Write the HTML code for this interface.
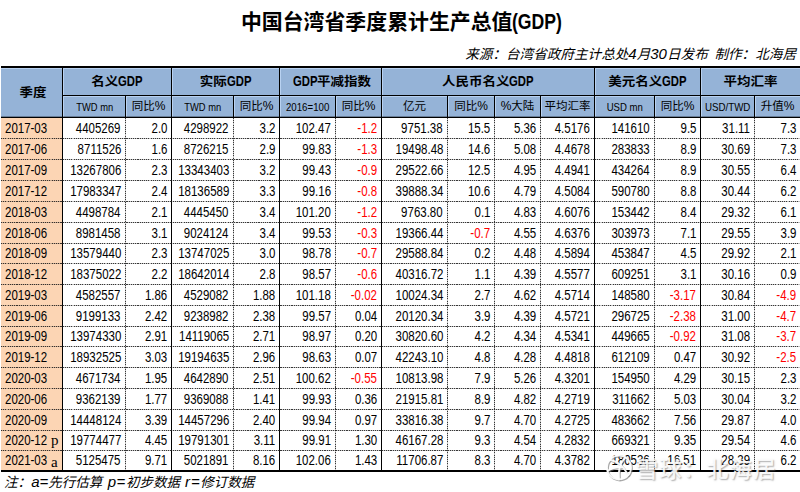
<!DOCTYPE html>
<html lang="zh-CN"><head><meta charset="utf-8"><title>中国台湾省季度累计生产总值(GDP)</title>
<style>
html,body{margin:0;padding:0;background:#fff;}
body{width:800px;height:492px;position:relative;overflow:hidden;font-family:"Liberation Sans","Noto Sans CJK SC",sans-serif;color:#000;}
.a{position:absolute;white-space:nowrap;}
.bg{position:absolute;}
.ln{position:absolute;background:#000;}
.dh{position:absolute;height:1px;background:repeating-linear-gradient(90deg,rgba(20,20,20,.85) 0,rgba(20,20,20,.85) 1.1px,rgba(60,60,60,.3) 1.1px,rgba(60,60,60,.3) 2.2px);}
.dv{position:absolute;width:1px;background:repeating-linear-gradient(180deg,rgba(20,20,20,.85) 0,rgba(20,20,20,.85) 1.1px,rgba(60,60,60,.3) 1.1px,rgba(60,60,60,.3) 2.2px);}
.hl{position:absolute;background:#B9D2F1;}
.n{display:inline-block;transform:scaleX(.82);}
.c{position:absolute;white-space:nowrap;font-size:14px;text-align:right;}
.c .n{transform-origin:100% 50%;}
.d{position:absolute;white-space:nowrap;font-size:14px;text-align:left;}
.d .n{transform-origin:0 50%;}
.r{color:#f00;}
.h1{position:absolute;white-space:nowrap;text-align:center;font-weight:bold;font-size:13.5px;}
.h1 .n{font-size:14.5px;transform:scaleX(.78);}
.h1 .k{display:inline-block;transform:scaleY(.9);}
.h2{position:absolute;white-space:nowrap;text-align:center;font-size:11.5px;}
.h2 .n{font-size:11px;position:relative;top:1.5px;}
.h2 .p{font-size:12px;}
.sf{font-family:"Liberation Serif",serif;font-size:15px;}
.it{font-style:italic;}
.fl{display:inline-block;text-align:right;font-size:15px;white-space:pre;}

</style></head><body>
<div class="bg" style="left:1px;top:68px;width:799px;height:49px;background:#95B3D7"></div>
<div class="bg" style="left:1px;top:118px;width:61px;height:352px;background:#FCD5B4"></div>
<div class="hl" style="left:1px;top:68px;width:799px;height:1px"></div>
<div class="hl" style="left:63px;top:96px;width:737px;height:1px"></div>
<div class="hl" style="left:63px;top:68px;width:1px;height:49px"></div>
<div class="hl" style="left:126px;top:96px;width:1px;height:21px"></div>
<div class="hl" style="left:172px;top:68px;width:1px;height:49px"></div>
<div class="hl" style="left:234px;top:96px;width:1px;height:21px"></div>
<div class="hl" style="left:280px;top:68px;width:1px;height:49px"></div>
<div class="hl" style="left:336px;top:96px;width:1px;height:21px"></div>
<div class="hl" style="left:382px;top:68px;width:1px;height:49px"></div>
<div class="hl" style="left:448px;top:96px;width:1px;height:21px"></div>
<div class="hl" style="left:495px;top:96px;width:1px;height:21px"></div>
<div class="hl" style="left:541px;top:96px;width:1px;height:21px"></div>
<div class="hl" style="left:595px;top:68px;width:1px;height:49px"></div>
<div class="hl" style="left:655px;top:96px;width:1px;height:21px"></div>
<div class="hl" style="left:701px;top:68px;width:1px;height:49px"></div>
<div class="hl" style="left:755px;top:96px;width:1px;height:21px"></div>
<div class="ln" style="left:1px;top:66px;width:799px;height:2px"></div>
<div class="ln" style="left:1px;top:470px;width:799px;height:2px"></div>
<div class="ln" style="left:62px;top:95px;width:738px;height:1px"></div>
<div class="ln" style="left:1px;top:117px;width:799px;height:1px"></div>
<div class="ln" style="left:1px;top:116px;width:799px;height:1px;background:rgba(0,0,0,.3)"></div>
<div class="ln" style="left:62px;top:68px;width:1px;height:402px"></div>
<div class="ln" style="left:125px;top:95px;width:1px;height:22px"></div>
<div class="dv" style="left:125px;top:118px;height:352px"></div>
<div class="ln" style="left:171px;top:68px;width:1px;height:402px"></div>
<div class="ln" style="left:233px;top:95px;width:1px;height:22px"></div>
<div class="dv" style="left:233px;top:118px;height:352px"></div>
<div class="ln" style="left:279px;top:68px;width:1px;height:402px"></div>
<div class="ln" style="left:335px;top:95px;width:1px;height:22px"></div>
<div class="dv" style="left:335px;top:118px;height:352px"></div>
<div class="ln" style="left:381px;top:68px;width:1px;height:402px"></div>
<div class="ln" style="left:447px;top:95px;width:1px;height:22px"></div>
<div class="dv" style="left:447px;top:118px;height:352px"></div>
<div class="ln" style="left:494px;top:95px;width:1px;height:22px"></div>
<div class="dv" style="left:494px;top:118px;height:352px"></div>
<div class="ln" style="left:540px;top:95px;width:1px;height:22px"></div>
<div class="dv" style="left:540px;top:118px;height:352px"></div>
<div class="ln" style="left:594px;top:68px;width:1px;height:402px"></div>
<div class="ln" style="left:654px;top:95px;width:1px;height:22px"></div>
<div class="dv" style="left:654px;top:118px;height:352px"></div>
<div class="ln" style="left:700px;top:68px;width:1px;height:402px"></div>
<div class="ln" style="left:754px;top:95px;width:1px;height:22px"></div>
<div class="dv" style="left:754px;top:118px;height:352px"></div>
<div class="dh" style="left:1px;top:138px;width:799px"></div>
<div class="dh" style="left:1px;top:159px;width:799px"></div>
<div class="dh" style="left:1px;top:180px;width:799px"></div>
<div class="dh" style="left:1px;top:201px;width:799px"></div>
<div class="dh" style="left:1px;top:222px;width:799px"></div>
<div class="dh" style="left:1px;top:243px;width:799px"></div>
<div class="dh" style="left:1px;top:263px;width:799px"></div>
<div class="dh" style="left:1px;top:284px;width:799px"></div>
<div class="dh" style="left:1px;top:305px;width:799px"></div>
<div class="dh" style="left:1px;top:326px;width:799px"></div>
<div class="dh" style="left:1px;top:346px;width:799px"></div>
<div class="dh" style="left:1px;top:367px;width:799px"></div>
<div class="dh" style="left:1px;top:388px;width:799px"></div>
<div class="dh" style="left:1px;top:409px;width:799px"></div>
<div class="dh" style="left:1px;top:430px;width:799px"></div>
<div class="dh" style="left:1px;top:450px;width:799px"></div>
<div class="a" style="left:240.9px;top:7px;height:30px;line-height:30px;font-size:20.9px;font-weight:bold">中国台湾省季度累计生产总值<span class="n" style="transform-origin:0 50%;font-size:21.5px">(GDP)</span></div>
<div class="a it" style="right:4px;top:43.5px;height:20px;line-height:20px;font-size:13.6px;text-align:right">来源：台湾省政府主计总处<span style="font-size:15px">4</span>月<span style="font-size:15px">30</span>日发布<span style="display:inline-block;width:6.7px"></span>制作：北海居</div>
<div class="h1" style="left:2.5px;top:68px;width:61.0px;height:49px;line-height:49px"><span class="k">季度</span></div>
<div class="h1" style="left:63px;top:68px;width:108px;height:27px;line-height:27px"><span class="k">名义</span><span class="n" style="transform-origin:0 50%;margin-right:-6.9px">GDP</span></div>
<div class="h1" style="left:172px;top:68px;width:107px;height:27px;line-height:27px"><span class="k">实际</span><span class="n" style="transform-origin:0 50%;margin-right:-6.9px">GDP</span></div>
<div class="h1" style="left:281.2px;top:68px;width:101.0px;height:27px;line-height:27px"><span class="n" style="transform-origin:100% 50%;margin-left:-6.9px">GDP</span><span class="k">平减指数</span></div>
<div class="h1" style="left:382px;top:68px;width:212px;height:27px;line-height:27px"><span class="k">人民币名义</span><span class="n" style="transform-origin:0 50%;margin-right:-6.9px">GDP</span></div>
<div class="h1" style="left:595px;top:68px;width:105px;height:27px;line-height:27px"><span class="k">美元名义</span><span class="n" style="transform-origin:0 50%;margin-right:-6.9px">GDP</span></div>
<div class="h1" style="left:701px;top:68px;width:99px;height:27px;line-height:27px"><span class="k">平均汇率</span></div>
<div class="h2" style="left:63px;top:95.8px;width:62px;height:21px;line-height:21px"><span class="n" style="transform:scaleX(0.85);transform-origin:50% 50%;left:0.7px">TWD mn</span></div>
<div class="h2" style="left:126px;top:95.8px;width:45px;height:21px;line-height:21px">同比<span class="p">%</span></div>
<div class="h2" style="left:172px;top:95.8px;width:61px;height:21px;line-height:21px"><span class="n" style="transform:scaleX(0.85);transform-origin:50% 50%;left:0.7px">TWD mn</span></div>
<div class="h2" style="left:234px;top:95.8px;width:45px;height:21px;line-height:21px">同比<span class="p">%</span></div>
<div class="h2" style="left:280px;top:95.8px;width:55px;height:21px;line-height:21px"><span class="n" style="transform:scaleX(0.88);transform-origin:50% 50%;left:0.3px">2016=100</span></div>
<div class="h2" style="left:336px;top:95.8px;width:45px;height:21px;line-height:21px">同比<span class="p">%</span></div>
<div class="h2" style="left:382px;top:95.8px;width:65px;height:21px;line-height:21px">亿元</div>
<div class="h2" style="left:448px;top:95.8px;width:46px;height:21px;line-height:21px">同比<span class="p">%</span></div>
<div class="h2" style="left:495px;top:95.8px;width:45px;height:21px;line-height:21px"><span class="p">%</span>大陆</div>
<div class="h2" style="left:541px;top:95.8px;width:53px;height:21px;line-height:21px">平均汇率</div>
<div class="h2" style="left:595px;top:95.8px;width:59px;height:21px;line-height:21px"><span class="n" style="transform:scaleX(0.87);transform-origin:50% 50%;left:0px">USD mn</span></div>
<div class="h2" style="left:655px;top:95.8px;width:45px;height:21px;line-height:21px">同比<span class="p">%</span></div>
<div class="h2" style="left:701px;top:95.8px;width:53px;height:21px;line-height:21px"><span class="n" style="transform:scaleX(0.886);transform-origin:50% 50%;left:0px">USD/TWD</span></div>
<div class="h2" style="left:755px;top:95.8px;width:45px;height:21px;line-height:21px">升值<span class="p">%</span></div>
<div class="d" style="left:5px;top:117.6px;width:57px;height:20px;line-height:20px"><span class="n">2017-03</span></div>
<div class="c" style="left:33px;top:117.6px;width:88px;height:20px;line-height:20px"><span class="n">4405269</span></div>
<div class="c" style="left:96px;top:117.6px;width:71px;height:20px;line-height:20px"><span class="n">2.0</span></div>
<div class="c" style="left:142px;top:117.6px;width:87px;height:20px;line-height:20px"><span class="n">4298922</span></div>
<div class="c" style="left:204px;top:117.6px;width:71px;height:20px;line-height:20px"><span class="n">3.2</span></div>
<div class="c" style="left:250px;top:117.6px;width:81px;height:20px;line-height:20px"><span class="n">102.47</span></div>
<div class="c r" style="left:306px;top:117.6px;width:71px;height:20px;line-height:20px"><span class="n">-1.2</span></div>
<div class="c" style="left:352px;top:117.6px;width:91px;height:20px;line-height:20px"><span class="n">9751.38</span></div>
<div class="c" style="left:418px;top:117.6px;width:72px;height:20px;line-height:20px"><span class="n">15.5</span></div>
<div class="c" style="left:465px;top:117.6px;width:71px;height:20px;line-height:20px"><span class="n">5.36</span></div>
<div class="c" style="left:511px;top:117.6px;width:79px;height:20px;line-height:20px"><span class="n">4.5176</span></div>
<div class="c" style="left:565px;top:117.6px;width:85px;height:20px;line-height:20px"><span class="n">141610</span></div>
<div class="c" style="left:625px;top:117.6px;width:71px;height:20px;line-height:20px"><span class="n">9.5</span></div>
<div class="c" style="left:671px;top:117.6px;width:79px;height:20px;line-height:20px"><span class="n">31.11</span></div>
<div class="c" style="left:725px;top:117.6px;width:71px;height:20px;line-height:20px"><span class="n">7.3</span></div>
<div class="d" style="left:5px;top:138.6px;width:57px;height:20px;line-height:20px"><span class="n">2017-06</span></div>
<div class="c" style="left:33px;top:138.6px;width:88px;height:20px;line-height:20px"><span class="n">8711526</span></div>
<div class="c" style="left:96px;top:138.6px;width:71px;height:20px;line-height:20px"><span class="n">1.6</span></div>
<div class="c" style="left:142px;top:138.6px;width:87px;height:20px;line-height:20px"><span class="n">8726215</span></div>
<div class="c" style="left:204px;top:138.6px;width:71px;height:20px;line-height:20px"><span class="n">2.9</span></div>
<div class="c" style="left:250px;top:138.6px;width:81px;height:20px;line-height:20px"><span class="n">99.83</span></div>
<div class="c r" style="left:306px;top:138.6px;width:71px;height:20px;line-height:20px"><span class="n">-1.3</span></div>
<div class="c" style="left:352px;top:138.6px;width:91px;height:20px;line-height:20px"><span class="n">19498.48</span></div>
<div class="c" style="left:418px;top:138.6px;width:72px;height:20px;line-height:20px"><span class="n">14.6</span></div>
<div class="c" style="left:465px;top:138.6px;width:71px;height:20px;line-height:20px"><span class="n">5.08</span></div>
<div class="c" style="left:511px;top:138.6px;width:79px;height:20px;line-height:20px"><span class="n">4.4678</span></div>
<div class="c" style="left:565px;top:138.6px;width:85px;height:20px;line-height:20px"><span class="n">283833</span></div>
<div class="c" style="left:625px;top:138.6px;width:71px;height:20px;line-height:20px"><span class="n">8.9</span></div>
<div class="c" style="left:671px;top:138.6px;width:79px;height:20px;line-height:20px"><span class="n">30.69</span></div>
<div class="c" style="left:725px;top:138.6px;width:71px;height:20px;line-height:20px"><span class="n">7.3</span></div>
<div class="d" style="left:5px;top:159.6px;width:57px;height:20px;line-height:20px"><span class="n">2017-09</span></div>
<div class="c" style="left:33px;top:159.6px;width:88px;height:20px;line-height:20px"><span class="n">13267806</span></div>
<div class="c" style="left:96px;top:159.6px;width:71px;height:20px;line-height:20px"><span class="n">2.3</span></div>
<div class="c" style="left:142px;top:159.6px;width:87px;height:20px;line-height:20px"><span class="n">13343403</span></div>
<div class="c" style="left:204px;top:159.6px;width:71px;height:20px;line-height:20px"><span class="n">3.2</span></div>
<div class="c" style="left:250px;top:159.6px;width:81px;height:20px;line-height:20px"><span class="n">99.43</span></div>
<div class="c r" style="left:306px;top:159.6px;width:71px;height:20px;line-height:20px"><span class="n">-0.9</span></div>
<div class="c" style="left:352px;top:159.6px;width:91px;height:20px;line-height:20px"><span class="n">29522.66</span></div>
<div class="c" style="left:418px;top:159.6px;width:72px;height:20px;line-height:20px"><span class="n">12.5</span></div>
<div class="c" style="left:465px;top:159.6px;width:71px;height:20px;line-height:20px"><span class="n">4.95</span></div>
<div class="c" style="left:511px;top:159.6px;width:79px;height:20px;line-height:20px"><span class="n">4.4941</span></div>
<div class="c" style="left:565px;top:159.6px;width:85px;height:20px;line-height:20px"><span class="n">434264</span></div>
<div class="c" style="left:625px;top:159.6px;width:71px;height:20px;line-height:20px"><span class="n">8.9</span></div>
<div class="c" style="left:671px;top:159.6px;width:79px;height:20px;line-height:20px"><span class="n">30.55</span></div>
<div class="c" style="left:725px;top:159.6px;width:71px;height:20px;line-height:20px"><span class="n">6.4</span></div>
<div class="d" style="left:5px;top:180.6px;width:57px;height:20px;line-height:20px"><span class="n">2017-12</span></div>
<div class="c" style="left:33px;top:180.6px;width:88px;height:20px;line-height:20px"><span class="n">17983347</span></div>
<div class="c" style="left:96px;top:180.6px;width:71px;height:20px;line-height:20px"><span class="n">2.4</span></div>
<div class="c" style="left:142px;top:180.6px;width:87px;height:20px;line-height:20px"><span class="n">18136589</span></div>
<div class="c" style="left:204px;top:180.6px;width:71px;height:20px;line-height:20px"><span class="n">3.3</span></div>
<div class="c" style="left:250px;top:180.6px;width:81px;height:20px;line-height:20px"><span class="n">99.16</span></div>
<div class="c r" style="left:306px;top:180.6px;width:71px;height:20px;line-height:20px"><span class="n">-0.8</span></div>
<div class="c" style="left:352px;top:180.6px;width:91px;height:20px;line-height:20px"><span class="n">39888.34</span></div>
<div class="c" style="left:418px;top:180.6px;width:72px;height:20px;line-height:20px"><span class="n">10.6</span></div>
<div class="c" style="left:465px;top:180.6px;width:71px;height:20px;line-height:20px"><span class="n">4.79</span></div>
<div class="c" style="left:511px;top:180.6px;width:79px;height:20px;line-height:20px"><span class="n">4.5084</span></div>
<div class="c" style="left:565px;top:180.6px;width:85px;height:20px;line-height:20px"><span class="n">590780</span></div>
<div class="c" style="left:625px;top:180.6px;width:71px;height:20px;line-height:20px"><span class="n">8.8</span></div>
<div class="c" style="left:671px;top:180.6px;width:79px;height:20px;line-height:20px"><span class="n">30.44</span></div>
<div class="c" style="left:725px;top:180.6px;width:71px;height:20px;line-height:20px"><span class="n">6.2</span></div>
<div class="d" style="left:5px;top:201.6px;width:57px;height:20px;line-height:20px"><span class="n">2018-03</span></div>
<div class="c" style="left:33px;top:201.6px;width:88px;height:20px;line-height:20px"><span class="n">4498784</span></div>
<div class="c" style="left:96px;top:201.6px;width:71px;height:20px;line-height:20px"><span class="n">2.1</span></div>
<div class="c" style="left:142px;top:201.6px;width:87px;height:20px;line-height:20px"><span class="n">4445450</span></div>
<div class="c" style="left:204px;top:201.6px;width:71px;height:20px;line-height:20px"><span class="n">3.4</span></div>
<div class="c" style="left:250px;top:201.6px;width:81px;height:20px;line-height:20px"><span class="n">101.20</span></div>
<div class="c r" style="left:306px;top:201.6px;width:71px;height:20px;line-height:20px"><span class="n">-1.2</span></div>
<div class="c" style="left:352px;top:201.6px;width:91px;height:20px;line-height:20px"><span class="n">9763.80</span></div>
<div class="c" style="left:418px;top:201.6px;width:72px;height:20px;line-height:20px"><span class="n">0.1</span></div>
<div class="c" style="left:465px;top:201.6px;width:71px;height:20px;line-height:20px"><span class="n">4.83</span></div>
<div class="c" style="left:511px;top:201.6px;width:79px;height:20px;line-height:20px"><span class="n">4.6076</span></div>
<div class="c" style="left:565px;top:201.6px;width:85px;height:20px;line-height:20px"><span class="n">153442</span></div>
<div class="c" style="left:625px;top:201.6px;width:71px;height:20px;line-height:20px"><span class="n">8.4</span></div>
<div class="c" style="left:671px;top:201.6px;width:79px;height:20px;line-height:20px"><span class="n">29.32</span></div>
<div class="c" style="left:725px;top:201.6px;width:71px;height:20px;line-height:20px"><span class="n">6.1</span></div>
<div class="d" style="left:5px;top:222.6px;width:57px;height:20px;line-height:20px"><span class="n">2018-06</span></div>
<div class="c" style="left:33px;top:222.6px;width:88px;height:20px;line-height:20px"><span class="n">8981458</span></div>
<div class="c" style="left:96px;top:222.6px;width:71px;height:20px;line-height:20px"><span class="n">3.1</span></div>
<div class="c" style="left:142px;top:222.6px;width:87px;height:20px;line-height:20px"><span class="n">9024124</span></div>
<div class="c" style="left:204px;top:222.6px;width:71px;height:20px;line-height:20px"><span class="n">3.4</span></div>
<div class="c" style="left:250px;top:222.6px;width:81px;height:20px;line-height:20px"><span class="n">99.53</span></div>
<div class="c r" style="left:306px;top:222.6px;width:71px;height:20px;line-height:20px"><span class="n">-0.3</span></div>
<div class="c" style="left:352px;top:222.6px;width:91px;height:20px;line-height:20px"><span class="n">19366.44</span></div>
<div class="c r" style="left:418px;top:222.6px;width:72px;height:20px;line-height:20px"><span class="n">-0.7</span></div>
<div class="c" style="left:465px;top:222.6px;width:71px;height:20px;line-height:20px"><span class="n">4.55</span></div>
<div class="c" style="left:511px;top:222.6px;width:79px;height:20px;line-height:20px"><span class="n">4.6376</span></div>
<div class="c" style="left:565px;top:222.6px;width:85px;height:20px;line-height:20px"><span class="n">303973</span></div>
<div class="c" style="left:625px;top:222.6px;width:71px;height:20px;line-height:20px"><span class="n">7.1</span></div>
<div class="c" style="left:671px;top:222.6px;width:79px;height:20px;line-height:20px"><span class="n">29.55</span></div>
<div class="c" style="left:725px;top:222.6px;width:71px;height:20px;line-height:20px"><span class="n">3.9</span></div>
<div class="d" style="left:5px;top:243.1px;width:57px;height:20px;line-height:20px"><span class="n">2018-09</span></div>
<div class="c" style="left:33px;top:243.1px;width:88px;height:20px;line-height:20px"><span class="n">13579440</span></div>
<div class="c" style="left:96px;top:243.1px;width:71px;height:20px;line-height:20px"><span class="n">2.3</span></div>
<div class="c" style="left:142px;top:243.1px;width:87px;height:20px;line-height:20px"><span class="n">13747025</span></div>
<div class="c" style="left:204px;top:243.1px;width:71px;height:20px;line-height:20px"><span class="n">3.0</span></div>
<div class="c" style="left:250px;top:243.1px;width:81px;height:20px;line-height:20px"><span class="n">98.78</span></div>
<div class="c r" style="left:306px;top:243.1px;width:71px;height:20px;line-height:20px"><span class="n">-0.7</span></div>
<div class="c" style="left:352px;top:243.1px;width:91px;height:20px;line-height:20px"><span class="n">29588.84</span></div>
<div class="c" style="left:418px;top:243.1px;width:72px;height:20px;line-height:20px"><span class="n">0.2</span></div>
<div class="c" style="left:465px;top:243.1px;width:71px;height:20px;line-height:20px"><span class="n">4.48</span></div>
<div class="c" style="left:511px;top:243.1px;width:79px;height:20px;line-height:20px"><span class="n">4.5894</span></div>
<div class="c" style="left:565px;top:243.1px;width:85px;height:20px;line-height:20px"><span class="n">453847</span></div>
<div class="c" style="left:625px;top:243.1px;width:71px;height:20px;line-height:20px"><span class="n">4.5</span></div>
<div class="c" style="left:671px;top:243.1px;width:79px;height:20px;line-height:20px"><span class="n">29.92</span></div>
<div class="c" style="left:725px;top:243.1px;width:71px;height:20px;line-height:20px"><span class="n">2.1</span></div>
<div class="d" style="left:5px;top:263.6px;width:57px;height:20px;line-height:20px"><span class="n">2018-12</span></div>
<div class="c" style="left:33px;top:263.6px;width:88px;height:20px;line-height:20px"><span class="n">18375022</span></div>
<div class="c" style="left:96px;top:263.6px;width:71px;height:20px;line-height:20px"><span class="n">2.2</span></div>
<div class="c" style="left:142px;top:263.6px;width:87px;height:20px;line-height:20px"><span class="n">18642014</span></div>
<div class="c" style="left:204px;top:263.6px;width:71px;height:20px;line-height:20px"><span class="n">2.8</span></div>
<div class="c" style="left:250px;top:263.6px;width:81px;height:20px;line-height:20px"><span class="n">98.57</span></div>
<div class="c r" style="left:306px;top:263.6px;width:71px;height:20px;line-height:20px"><span class="n">-0.6</span></div>
<div class="c" style="left:352px;top:263.6px;width:91px;height:20px;line-height:20px"><span class="n">40316.72</span></div>
<div class="c" style="left:418px;top:263.6px;width:72px;height:20px;line-height:20px"><span class="n">1.1</span></div>
<div class="c" style="left:465px;top:263.6px;width:71px;height:20px;line-height:20px"><span class="n">4.39</span></div>
<div class="c" style="left:511px;top:263.6px;width:79px;height:20px;line-height:20px"><span class="n">4.5577</span></div>
<div class="c" style="left:565px;top:263.6px;width:85px;height:20px;line-height:20px"><span class="n">609251</span></div>
<div class="c" style="left:625px;top:263.6px;width:71px;height:20px;line-height:20px"><span class="n">3.1</span></div>
<div class="c" style="left:671px;top:263.6px;width:79px;height:20px;line-height:20px"><span class="n">30.16</span></div>
<div class="c" style="left:725px;top:263.6px;width:71px;height:20px;line-height:20px"><span class="n">0.9</span></div>
<div class="d" style="left:5px;top:284.6px;width:57px;height:20px;line-height:20px"><span class="n">2019-03</span></div>
<div class="c" style="left:33px;top:284.6px;width:88px;height:20px;line-height:20px"><span class="n">4582557</span></div>
<div class="c" style="left:96px;top:284.6px;width:71px;height:20px;line-height:20px"><span class="n">1.86</span></div>
<div class="c" style="left:142px;top:284.6px;width:87px;height:20px;line-height:20px"><span class="n">4529082</span></div>
<div class="c" style="left:204px;top:284.6px;width:71px;height:20px;line-height:20px"><span class="n">1.88</span></div>
<div class="c" style="left:250px;top:284.6px;width:81px;height:20px;line-height:20px"><span class="n">101.18</span></div>
<div class="c r" style="left:306px;top:284.6px;width:71px;height:20px;line-height:20px"><span class="n">-0.02</span></div>
<div class="c" style="left:352px;top:284.6px;width:91px;height:20px;line-height:20px"><span class="n">10024.34</span></div>
<div class="c" style="left:418px;top:284.6px;width:72px;height:20px;line-height:20px"><span class="n">2.7</span></div>
<div class="c" style="left:465px;top:284.6px;width:71px;height:20px;line-height:20px"><span class="n">4.62</span></div>
<div class="c" style="left:511px;top:284.6px;width:79px;height:20px;line-height:20px"><span class="n">4.5714</span></div>
<div class="c" style="left:565px;top:284.6px;width:85px;height:20px;line-height:20px"><span class="n">148580</span></div>
<div class="c r" style="left:625px;top:284.6px;width:71px;height:20px;line-height:20px"><span class="n">-3.17</span></div>
<div class="c" style="left:671px;top:284.6px;width:79px;height:20px;line-height:20px"><span class="n">30.84</span></div>
<div class="c r" style="left:725px;top:284.6px;width:71px;height:20px;line-height:20px"><span class="n">-4.9</span></div>
<div class="d" style="left:5px;top:305.6px;width:57px;height:20px;line-height:20px"><span class="n">2019-06</span></div>
<div class="c" style="left:33px;top:305.6px;width:88px;height:20px;line-height:20px"><span class="n">9199133</span></div>
<div class="c" style="left:96px;top:305.6px;width:71px;height:20px;line-height:20px"><span class="n">2.42</span></div>
<div class="c" style="left:142px;top:305.6px;width:87px;height:20px;line-height:20px"><span class="n">9238982</span></div>
<div class="c" style="left:204px;top:305.6px;width:71px;height:20px;line-height:20px"><span class="n">2.38</span></div>
<div class="c" style="left:250px;top:305.6px;width:81px;height:20px;line-height:20px"><span class="n">99.57</span></div>
<div class="c" style="left:306px;top:305.6px;width:71px;height:20px;line-height:20px"><span class="n">0.04</span></div>
<div class="c" style="left:352px;top:305.6px;width:91px;height:20px;line-height:20px"><span class="n">20120.34</span></div>
<div class="c" style="left:418px;top:305.6px;width:72px;height:20px;line-height:20px"><span class="n">3.9</span></div>
<div class="c" style="left:465px;top:305.6px;width:71px;height:20px;line-height:20px"><span class="n">4.39</span></div>
<div class="c" style="left:511px;top:305.6px;width:79px;height:20px;line-height:20px"><span class="n">4.5721</span></div>
<div class="c" style="left:565px;top:305.6px;width:85px;height:20px;line-height:20px"><span class="n">296725</span></div>
<div class="c r" style="left:625px;top:305.6px;width:71px;height:20px;line-height:20px"><span class="n">-2.38</span></div>
<div class="c" style="left:671px;top:305.6px;width:79px;height:20px;line-height:20px"><span class="n">31.00</span></div>
<div class="c r" style="left:725px;top:305.6px;width:71px;height:20px;line-height:20px"><span class="n">-4.7</span></div>
<div class="d" style="left:5px;top:326.1px;width:57px;height:20px;line-height:20px"><span class="n">2019-09</span></div>
<div class="c" style="left:33px;top:326.1px;width:88px;height:20px;line-height:20px"><span class="n">13974330</span></div>
<div class="c" style="left:96px;top:326.1px;width:71px;height:20px;line-height:20px"><span class="n">2.91</span></div>
<div class="c" style="left:142px;top:326.1px;width:87px;height:20px;line-height:20px"><span class="n">14119065</span></div>
<div class="c" style="left:204px;top:326.1px;width:71px;height:20px;line-height:20px"><span class="n">2.71</span></div>
<div class="c" style="left:250px;top:326.1px;width:81px;height:20px;line-height:20px"><span class="n">98.97</span></div>
<div class="c" style="left:306px;top:326.1px;width:71px;height:20px;line-height:20px"><span class="n">0.20</span></div>
<div class="c" style="left:352px;top:326.1px;width:91px;height:20px;line-height:20px"><span class="n">30820.60</span></div>
<div class="c" style="left:418px;top:326.1px;width:72px;height:20px;line-height:20px"><span class="n">4.2</span></div>
<div class="c" style="left:465px;top:326.1px;width:71px;height:20px;line-height:20px"><span class="n">4.34</span></div>
<div class="c" style="left:511px;top:326.1px;width:79px;height:20px;line-height:20px"><span class="n">4.5341</span></div>
<div class="c" style="left:565px;top:326.1px;width:85px;height:20px;line-height:20px"><span class="n">449665</span></div>
<div class="c r" style="left:625px;top:326.1px;width:71px;height:20px;line-height:20px"><span class="n">-0.92</span></div>
<div class="c" style="left:671px;top:326.1px;width:79px;height:20px;line-height:20px"><span class="n">31.08</span></div>
<div class="c r" style="left:725px;top:326.1px;width:71px;height:20px;line-height:20px"><span class="n">-3.7</span></div>
<div class="d" style="left:5px;top:346.6px;width:57px;height:20px;line-height:20px"><span class="n">2019-12</span></div>
<div class="c" style="left:33px;top:346.6px;width:88px;height:20px;line-height:20px"><span class="n">18932525</span></div>
<div class="c" style="left:96px;top:346.6px;width:71px;height:20px;line-height:20px"><span class="n">3.03</span></div>
<div class="c" style="left:142px;top:346.6px;width:87px;height:20px;line-height:20px"><span class="n">19194635</span></div>
<div class="c" style="left:204px;top:346.6px;width:71px;height:20px;line-height:20px"><span class="n">2.96</span></div>
<div class="c" style="left:250px;top:346.6px;width:81px;height:20px;line-height:20px"><span class="n">98.63</span></div>
<div class="c" style="left:306px;top:346.6px;width:71px;height:20px;line-height:20px"><span class="n">0.07</span></div>
<div class="c" style="left:352px;top:346.6px;width:91px;height:20px;line-height:20px"><span class="n">42243.10</span></div>
<div class="c" style="left:418px;top:346.6px;width:72px;height:20px;line-height:20px"><span class="n">4.8</span></div>
<div class="c" style="left:465px;top:346.6px;width:71px;height:20px;line-height:20px"><span class="n">4.28</span></div>
<div class="c" style="left:511px;top:346.6px;width:79px;height:20px;line-height:20px"><span class="n">4.4818</span></div>
<div class="c" style="left:565px;top:346.6px;width:85px;height:20px;line-height:20px"><span class="n">612109</span></div>
<div class="c" style="left:625px;top:346.6px;width:71px;height:20px;line-height:20px"><span class="n">0.47</span></div>
<div class="c" style="left:671px;top:346.6px;width:79px;height:20px;line-height:20px"><span class="n">30.92</span></div>
<div class="c r" style="left:725px;top:346.6px;width:71px;height:20px;line-height:20px"><span class="n">-2.5</span></div>
<div class="d" style="left:5px;top:367.6px;width:57px;height:20px;line-height:20px"><span class="n">2020-03</span></div>
<div class="c" style="left:33px;top:367.6px;width:88px;height:20px;line-height:20px"><span class="n">4671734</span></div>
<div class="c" style="left:96px;top:367.6px;width:71px;height:20px;line-height:20px"><span class="n">1.95</span></div>
<div class="c" style="left:142px;top:367.6px;width:87px;height:20px;line-height:20px"><span class="n">4642890</span></div>
<div class="c" style="left:204px;top:367.6px;width:71px;height:20px;line-height:20px"><span class="n">2.51</span></div>
<div class="c" style="left:250px;top:367.6px;width:81px;height:20px;line-height:20px"><span class="n">100.62</span></div>
<div class="c r" style="left:306px;top:367.6px;width:71px;height:20px;line-height:20px"><span class="n">-0.55</span></div>
<div class="c" style="left:352px;top:367.6px;width:91px;height:20px;line-height:20px"><span class="n">10813.98</span></div>
<div class="c" style="left:418px;top:367.6px;width:72px;height:20px;line-height:20px"><span class="n">7.9</span></div>
<div class="c" style="left:465px;top:367.6px;width:71px;height:20px;line-height:20px"><span class="n">5.26</span></div>
<div class="c" style="left:511px;top:367.6px;width:79px;height:20px;line-height:20px"><span class="n">4.3201</span></div>
<div class="c" style="left:565px;top:367.6px;width:85px;height:20px;line-height:20px"><span class="n">154950</span></div>
<div class="c" style="left:625px;top:367.6px;width:71px;height:20px;line-height:20px"><span class="n">4.29</span></div>
<div class="c" style="left:671px;top:367.6px;width:79px;height:20px;line-height:20px"><span class="n">30.15</span></div>
<div class="c" style="left:725px;top:367.6px;width:71px;height:20px;line-height:20px"><span class="n">2.3</span></div>
<div class="d" style="left:5px;top:388.6px;width:57px;height:20px;line-height:20px"><span class="n">2020-06</span></div>
<div class="c" style="left:33px;top:388.6px;width:88px;height:20px;line-height:20px"><span class="n">9362139</span></div>
<div class="c" style="left:96px;top:388.6px;width:71px;height:20px;line-height:20px"><span class="n">1.77</span></div>
<div class="c" style="left:142px;top:388.6px;width:87px;height:20px;line-height:20px"><span class="n">9369088</span></div>
<div class="c" style="left:204px;top:388.6px;width:71px;height:20px;line-height:20px"><span class="n">1.41</span></div>
<div class="c" style="left:250px;top:388.6px;width:81px;height:20px;line-height:20px"><span class="n">99.93</span></div>
<div class="c" style="left:306px;top:388.6px;width:71px;height:20px;line-height:20px"><span class="n">0.36</span></div>
<div class="c" style="left:352px;top:388.6px;width:91px;height:20px;line-height:20px"><span class="n">21915.81</span></div>
<div class="c" style="left:418px;top:388.6px;width:72px;height:20px;line-height:20px"><span class="n">8.9</span></div>
<div class="c" style="left:465px;top:388.6px;width:71px;height:20px;line-height:20px"><span class="n">4.82</span></div>
<div class="c" style="left:511px;top:388.6px;width:79px;height:20px;line-height:20px"><span class="n">4.2719</span></div>
<div class="c" style="left:565px;top:388.6px;width:85px;height:20px;line-height:20px"><span class="n">311662</span></div>
<div class="c" style="left:625px;top:388.6px;width:71px;height:20px;line-height:20px"><span class="n">5.03</span></div>
<div class="c" style="left:671px;top:388.6px;width:79px;height:20px;line-height:20px"><span class="n">30.04</span></div>
<div class="c" style="left:725px;top:388.6px;width:71px;height:20px;line-height:20px"><span class="n">3.2</span></div>
<div class="d" style="left:5px;top:409.6px;width:57px;height:20px;line-height:20px"><span class="n">2020-09</span></div>
<div class="c" style="left:33px;top:409.6px;width:88px;height:20px;line-height:20px"><span class="n">14448124</span></div>
<div class="c" style="left:96px;top:409.6px;width:71px;height:20px;line-height:20px"><span class="n">3.39</span></div>
<div class="c" style="left:142px;top:409.6px;width:87px;height:20px;line-height:20px"><span class="n">14457296</span></div>
<div class="c" style="left:204px;top:409.6px;width:71px;height:20px;line-height:20px"><span class="n">2.40</span></div>
<div class="c" style="left:250px;top:409.6px;width:81px;height:20px;line-height:20px"><span class="n">99.94</span></div>
<div class="c" style="left:306px;top:409.6px;width:71px;height:20px;line-height:20px"><span class="n">0.97</span></div>
<div class="c" style="left:352px;top:409.6px;width:91px;height:20px;line-height:20px"><span class="n">33816.38</span></div>
<div class="c" style="left:418px;top:409.6px;width:72px;height:20px;line-height:20px"><span class="n">9.7</span></div>
<div class="c" style="left:465px;top:409.6px;width:71px;height:20px;line-height:20px"><span class="n">4.70</span></div>
<div class="c" style="left:511px;top:409.6px;width:79px;height:20px;line-height:20px"><span class="n">4.2725</span></div>
<div class="c" style="left:565px;top:409.6px;width:85px;height:20px;line-height:20px"><span class="n">483662</span></div>
<div class="c" style="left:625px;top:409.6px;width:71px;height:20px;line-height:20px"><span class="n">7.56</span></div>
<div class="c" style="left:671px;top:409.6px;width:79px;height:20px;line-height:20px"><span class="n">29.87</span></div>
<div class="c" style="left:725px;top:409.6px;width:71px;height:20px;line-height:20px"><span class="n">4.0</span></div>
<div class="d" style="left:5px;top:430.1px;width:57px;height:20px;line-height:20px"><span class="n">2020-12</span><span class="sf" style="position:absolute;left:46px;top:0px">p</span></div>
<div class="c" style="left:33px;top:430.1px;width:88px;height:20px;line-height:20px"><span class="n">19774477</span></div>
<div class="c" style="left:96px;top:430.1px;width:71px;height:20px;line-height:20px"><span class="n">4.45</span></div>
<div class="c" style="left:142px;top:430.1px;width:87px;height:20px;line-height:20px"><span class="n">19791301</span></div>
<div class="c" style="left:204px;top:430.1px;width:71px;height:20px;line-height:20px"><span class="n">3.11</span></div>
<div class="c" style="left:250px;top:430.1px;width:81px;height:20px;line-height:20px"><span class="n">99.91</span></div>
<div class="c" style="left:306px;top:430.1px;width:71px;height:20px;line-height:20px"><span class="n">1.30</span></div>
<div class="c" style="left:352px;top:430.1px;width:91px;height:20px;line-height:20px"><span class="n">46167.28</span></div>
<div class="c" style="left:418px;top:430.1px;width:72px;height:20px;line-height:20px"><span class="n">9.3</span></div>
<div class="c" style="left:465px;top:430.1px;width:71px;height:20px;line-height:20px"><span class="n">4.54</span></div>
<div class="c" style="left:511px;top:430.1px;width:79px;height:20px;line-height:20px"><span class="n">4.2832</span></div>
<div class="c" style="left:565px;top:430.1px;width:85px;height:20px;line-height:20px"><span class="n">669321</span></div>
<div class="c" style="left:625px;top:430.1px;width:71px;height:20px;line-height:20px"><span class="n">9.35</span></div>
<div class="c" style="left:671px;top:430.1px;width:79px;height:20px;line-height:20px"><span class="n">29.54</span></div>
<div class="c" style="left:725px;top:430.1px;width:71px;height:20px;line-height:20px"><span class="n">4.6</span></div>
<div class="d" style="left:5px;top:450.1px;width:57px;height:20px;line-height:20px"><span class="n">2021-03</span><span class="sf" style="position:absolute;left:46px;top:2px">a</span></div>
<div class="c" style="left:33px;top:450.1px;width:88px;height:20px;line-height:20px"><span class="n">5125475</span></div>
<div class="c" style="left:96px;top:450.1px;width:71px;height:20px;line-height:20px"><span class="n">9.71</span></div>
<div class="c" style="left:142px;top:450.1px;width:87px;height:20px;line-height:20px"><span class="n">5021891</span></div>
<div class="c" style="left:204px;top:450.1px;width:71px;height:20px;line-height:20px"><span class="n">8.16</span></div>
<div class="c" style="left:250px;top:450.1px;width:81px;height:20px;line-height:20px"><span class="n">102.06</span></div>
<div class="c" style="left:306px;top:450.1px;width:71px;height:20px;line-height:20px"><span class="n">1.43</span></div>
<div class="c" style="left:352px;top:450.1px;width:91px;height:20px;line-height:20px"><span class="n">11706.87</span></div>
<div class="c" style="left:418px;top:450.1px;width:72px;height:20px;line-height:20px"><span class="n">8.3</span></div>
<div class="c" style="left:465px;top:450.1px;width:71px;height:20px;line-height:20px"><span class="n">4.70</span></div>
<div class="c" style="left:511px;top:450.1px;width:79px;height:20px;line-height:20px"><span class="n">4.3782</span></div>
<div class="c" style="left:565px;top:450.1px;width:85px;height:20px;line-height:20px"><span class="n">180536</span></div>
<div class="c" style="left:625px;top:450.1px;width:71px;height:20px;line-height:20px"><span class="n">16.51</span></div>
<div class="c" style="left:671px;top:450.1px;width:79px;height:20px;line-height:20px"><span class="n">28.39</span></div>
<div class="c" style="left:725px;top:450.1px;width:71px;height:20px;line-height:20px"><span class="n">6.2</span></div>
<svg class="a" style="left:604px;top:452px" width="32" height="32" viewBox="0 0 32 32" fill="none" stroke-linecap="round"><g stroke="rgba(110,110,110,.6)" stroke-width="1.8" transform="translate(1,1)"><circle cx="15" cy="15.5" r="12"/><path d="M6.5 8 C12 9,19 13,24 23"/><path d="M21 6 C16 11,14 17,15 27"/><path d="M3.5 19 C8 16,13 15,18 15.5"/></g><g stroke="rgba(255,255,255,.92)" stroke-width="1.8"><circle cx="15" cy="15.5" r="12"/><path d="M6.5 8 C12 9,19 13,24 23"/><path d="M21 6 C16 11,14 17,15 27"/><path d="M3.5 19 C8 16,13 15,18 15.5"/></g></svg>
<div class="a" style="left:636px;top:455.5px;height:28px;line-height:28px;font-size:22px;font-weight:500;letter-spacing:1.5px;color:rgba(255,255,255,.88);text-shadow:1px 1px 1.5px rgba(100,100,100,.55)">雪球：北海居</div>
<div class="a it" style="left:4px;top:472px;height:20px;line-height:20px;font-size:13.5px">注：<span class="fl" style="width:17.3px">a=</span>先行估算<span class="fl" style="width:23.6px;letter-spacing:.5px"> p=</span>初步数据<span class="fl" style="width:20.4px;letter-spacing:1px"> r=</span>修订数据</div>
</body></html>
